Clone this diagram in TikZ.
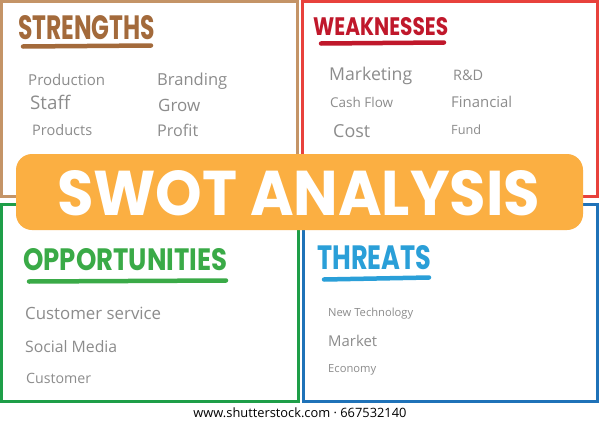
\documentclass[tikz,border=0pt]{standalone}
\usepackage{fontspec}
\setmainfont{Open Sans}
\newfontfamily\headfont{Poppins}
\definecolor{brownB}{HTML}{C49467}
\definecolor{brownT}{HTML}{A36A3B}
\definecolor{redB}{HTML}{E8413C}
\definecolor{redT}{HTML}{C0182B}
\definecolor{greenB}{HTML}{1E9E48}
\definecolor{greenT}{HTML}{3AAA47}
\definecolor{blueB}{HTML}{1F72B8}
\definecolor{blueT}{HTML}{2A9FD8}
\definecolor{bannerC}{HTML}{FBAF42}
\definecolor{itemC}{HTML}{8C8C8C}
\newcommand{\itm}[2]{\resizebox{#1pt}{!}{#2}}
\newcommand{\hd}[3]{\resizebox{#1pt}{#2pt}{\headfont\bfseries #3}}
\begin{document}
\begin{tikzpicture}[x=1pt,y=-1pt,
  frame/.style={line width=3pt},
  item/.style={anchor=base west,inner sep=0pt,text=itemC},
  heading/.style={anchor=base west,inner sep=0pt},
  brush/.style={line width=4.5pt,line cap=round}]
\fill[white] (0,0) rectangle (600,423);
\useasboundingbox (0,0) rectangle (600,423);
% quadrant frames
\draw[frame,brownB] (1.5,1.5) rectangle (297.5,196.5);
\draw[frame,redB] (302.5,1.5) rectangle (597.5,196.5);
\draw[frame,greenB] (1.5,204.5) rectangle (298,401);
\draw[frame,blueB] (303.5,204.5) rectangle (597.5,401);
% banner
\node[fill=bannerC,rounded corners=16pt,minimum width=567pt,minimum height=76pt,inner sep=0pt] (banner) at (299.5,192) {};
\node[heading,text=white] (title) at (57,215) {\hd{483}{45}{SWOT ANALYSIS}};
% strengths
\node[heading,text=brownT] (sh) at (18,39) {\hd{137}{24}{STRENGTHS}};
\coordinate (su1) at (23,46.5); \coordinate (su2) at (151,45.5);
\draw[brush,brownT] (su1) -- (su2);
\node[item] (s1) at (28,85) {\itm{77}{Production}};
\node[item] (s2) at (30,109) {\itm{40}{Staff}};
\node[item] (s3) at (32,135) {\itm{60}{Products}};
\node[item] (s4) at (157,85) {\itm{70}{Branding}};
\node[item] (s5) at (158,111) {\itm{42}{Grow}};
\node[item] (s6) at (157,136) {\itm{41}{Profit}};
% weaknesses
\node[heading,text=redT] (wh) at (313,35) {\hd{135}{18}{WEAKNESSES}};
\coordinate (wu1) at (321,43.5); \coordinate (wu2) at (444,42.5);
\draw[brush,redT] (wu1) -- (wu2);
\node[item] (w1) at (329,81) {\itm{83}{Marketing}};
\node[item] (w2) at (330,107) {\itm{63}{Cash Flow}};
\node[item] (w3) at (333,137) {\itm{37}{Cost}};
\node[item] (w4) at (453,81) {\itm{30}{R\&D}};
\node[item] (w5) at (451,107) {\itm{61}{Financial}};
\node[item] (w6) at (451,134) {\itm{30}{Fund}};
% opportunities
\node[heading,text=greenT] (oh) at (23,270) {\hd{204}{22}{OPPORTUNITIES}};
\coordinate (ou1) at (29,281.5); \coordinate (ou2) at (226,280.5);
\draw[brush,greenT] (ou1) -- (ou2);
\node[item] (o1) at (25,319) {\itm{136}{Customer service}};
\node[item] (o2) at (25,352) {\itm{92}{Social Media}};
\node[item] (o3) at (26,383) {\itm{65}{Customer}};
% threats
\node[heading,text=blueT] (th) at (317,269) {\hd{114}{24}{THREATS}};
\coordinate (tu1) at (324,279.5); \coordinate (tu2) at (429,277.5);
\draw[brush,blueT] (tu1) -- (tu2);
\node[item] (t1) at (328,316) {\itm{85}{New Technology}};
\node[item] (t2) at (328,346) {\itm{49}{Market}};
\node[item] (t3) at (328,372) {\itm{48}{Economy}};
% footer
\node[anchor=base,inner sep=0pt] (foot) at (300,417) {\itm{213}{www.shutterstock.com · 667532140}};
\end{tikzpicture}
\end{document}
